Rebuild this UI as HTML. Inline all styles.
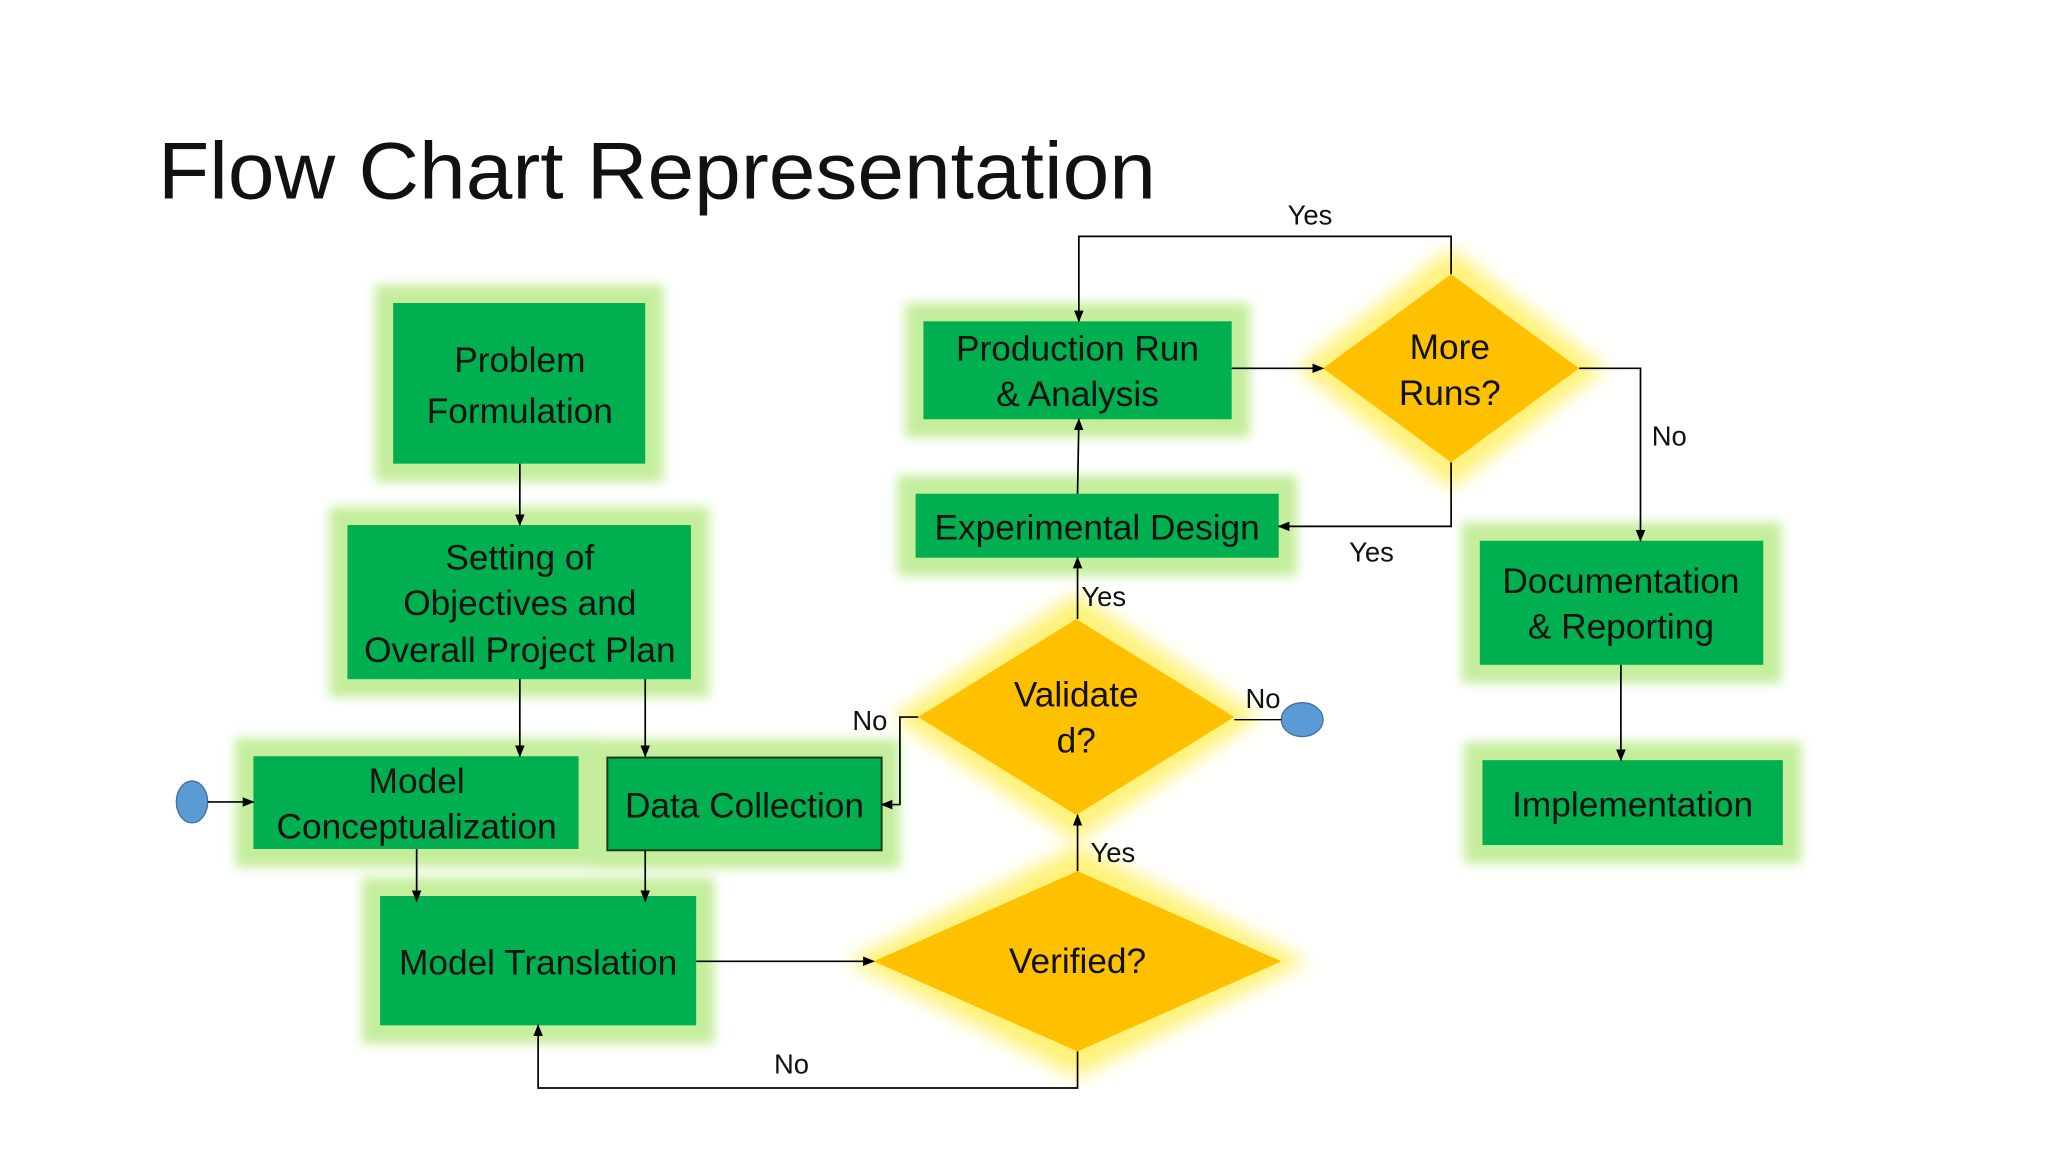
<!DOCTYPE html>
<html><head><meta charset="utf-8"><style>
html,body{margin:0;padding:0;background:#fff;}
svg{display:block;}
text{font-family:"Liberation Sans",sans-serif;fill:#111;}
</style></head><body>
<svg width="2048" height="1152" viewBox="0 0 1568 882" xmlns="http://www.w3.org/2000/svg">
<defs>
<filter id="gl" x="-30%" y="-30%" width="160%" height="160%"><feGaussianBlur stdDeviation="4"/></filter>
<filter id="gy" x="-30%" y="-30%" width="160%" height="160%"><feGaussianBlur stdDeviation="7"/></filter>
<marker id="a" viewBox="0 0 10 10" refX="9" refY="5" markerWidth="7" markerHeight="7" orient="auto"><path d="M0,1 L10,5 L0,9z" fill="#000"/></marker>
</defs>
<rect width="1568" height="882" fill="#fff"/>
<text x="121" y="152" font-size="62" textLength="764" lengthAdjust="spacingAndGlyphs">Flow Chart Representation</text>

<!-- glows -->
<g fill="#c4ee9c" filter="url(#gl)">
<rect x="287" y="218" width="221" height="151"/>
<rect x="252" y="388" width="291" height="146"/>
<rect x="180" y="565" width="277" height="99"/>
<rect x="451" y="566" width="238" height="99"/>
<rect x="277" y="672" width="270" height="127"/>
<rect x="693" y="232" width="264" height="103"/>
<rect x="687" y="364" width="306" height="77"/>
<rect x="1119" y="400" width="245" height="123"/>
<rect x="1121" y="568" width="258" height="93"/>
</g>
<g fill="#fff27a" filter="url(#gy)">
<polygon points="1111,190 1229,282 1111,374 993,282"/>
<polygon points="824,454 965,549 824,644 683,549"/>
<polygon points="825,647 1001,736 825,825 649,736"/>
</g>

<!-- boxes -->
<g fill="#00b050">
<rect x="301" y="232" width="193" height="123"/>
<rect x="266" y="402" width="263" height="118"/>
<rect x="194" y="579" width="249" height="71"/>
<rect x="465" y="580" width="210" height="71" stroke="#1a3a1a" stroke-width="1.5"/>
<rect x="291" y="686" width="242" height="99"/>
<rect x="707" y="246" width="236" height="75"/>
<rect x="701" y="378" width="278" height="49"/>
<rect x="1133" y="414" width="217" height="95"/>
<rect x="1135" y="582" width="230" height="65"/>
</g>
<g fill="#ffc000">
<polygon points="1111,210 1209,282 1111,354 1013,282"/>
<polygon points="824,474 945,549 824,624 703,549"/>
<polygon points="825,667 981,736 825,805 669,736"/>
</g>

<!-- circles -->
<ellipse cx="147" cy="614" rx="12" ry="16" fill="#5b9bd5" stroke="#41719c"/>
<ellipse cx="997" cy="551" rx="16" ry="13" fill="#5b9bd5" stroke="#41719c"/>

<!-- connectors -->
<g stroke="#000" stroke-width="1.3" fill="none" marker-end="url(#a)">
<path d="M398,355 V402"/>
<path d="M398,520 V579"/>
<path d="M494,520 V579"/>
<path d="M319,650 V690"/>
<path d="M494,651 V690"/>
<path d="M159,614 H194"/>
<path d="M533,736 H669"/>
<path d="M825,805 V833 H412 V785"/>
<path d="M825,667 V624"/>
<path d="M703,549 H689 V616 H675"/>
<path d="M825,474 V427"/>
<path d="M825,378 L826,321"/>
<path d="M943,282 H1013"/>
<path d="M1111,210 V181 H826 V246"/>
<path d="M1111,354 V403 H979"/>
<path d="M1209,282 H1256 V414"/>
<path d="M1241,509 V582"/>
</g>
<path d="M945,551 H981" stroke="#000" stroke-width="1"/>

<!-- box text -->
<g font-size="27" text-anchor="middle">
<text x="398" y="285">Problem</text>
<text x="398" y="324">Formulation</text>
<text x="398" y="436">Setting of</text>
<text x="398" y="471">Objectives and</text>
<text x="398" y="507">Overall Project Plan</text>
<text x="319" y="607">Model</text>
<text x="319" y="642">Conceptualization</text>
<text x="570" y="626">Data Collection</text>
<text x="412" y="746">Model Translation</text>
<text x="825" y="276">Production Run</text>
<text x="825" y="311">&amp; Analysis</text>
<text x="840" y="413">Experimental Design</text>
<text x="1241" y="454">Documentation</text>
<text x="1241" y="489">&amp; Reporting</text>
<text x="1250" y="625">Implementation</text>
<text x="1110" y="275">More</text>
<text x="1110" y="310">Runs?</text>
<text x="824" y="541">Validate</text>
<text x="824" y="576">d?</text>
<text x="825" y="745">Verified?</text>
</g>
<!-- labels -->
<g font-size="21" text-anchor="middle">
<text x="1003" y="172">Yes</text>
<text x="1050" y="430">Yes</text>
<text x="1278" y="341">No</text>
<text x="845" y="464">Yes</text>
<text x="666" y="559">No</text>
<text x="967" y="542">No</text>
<text x="852" y="660">Yes</text>
<text x="606" y="822">No</text>
</g>
</svg>
</body></html>
